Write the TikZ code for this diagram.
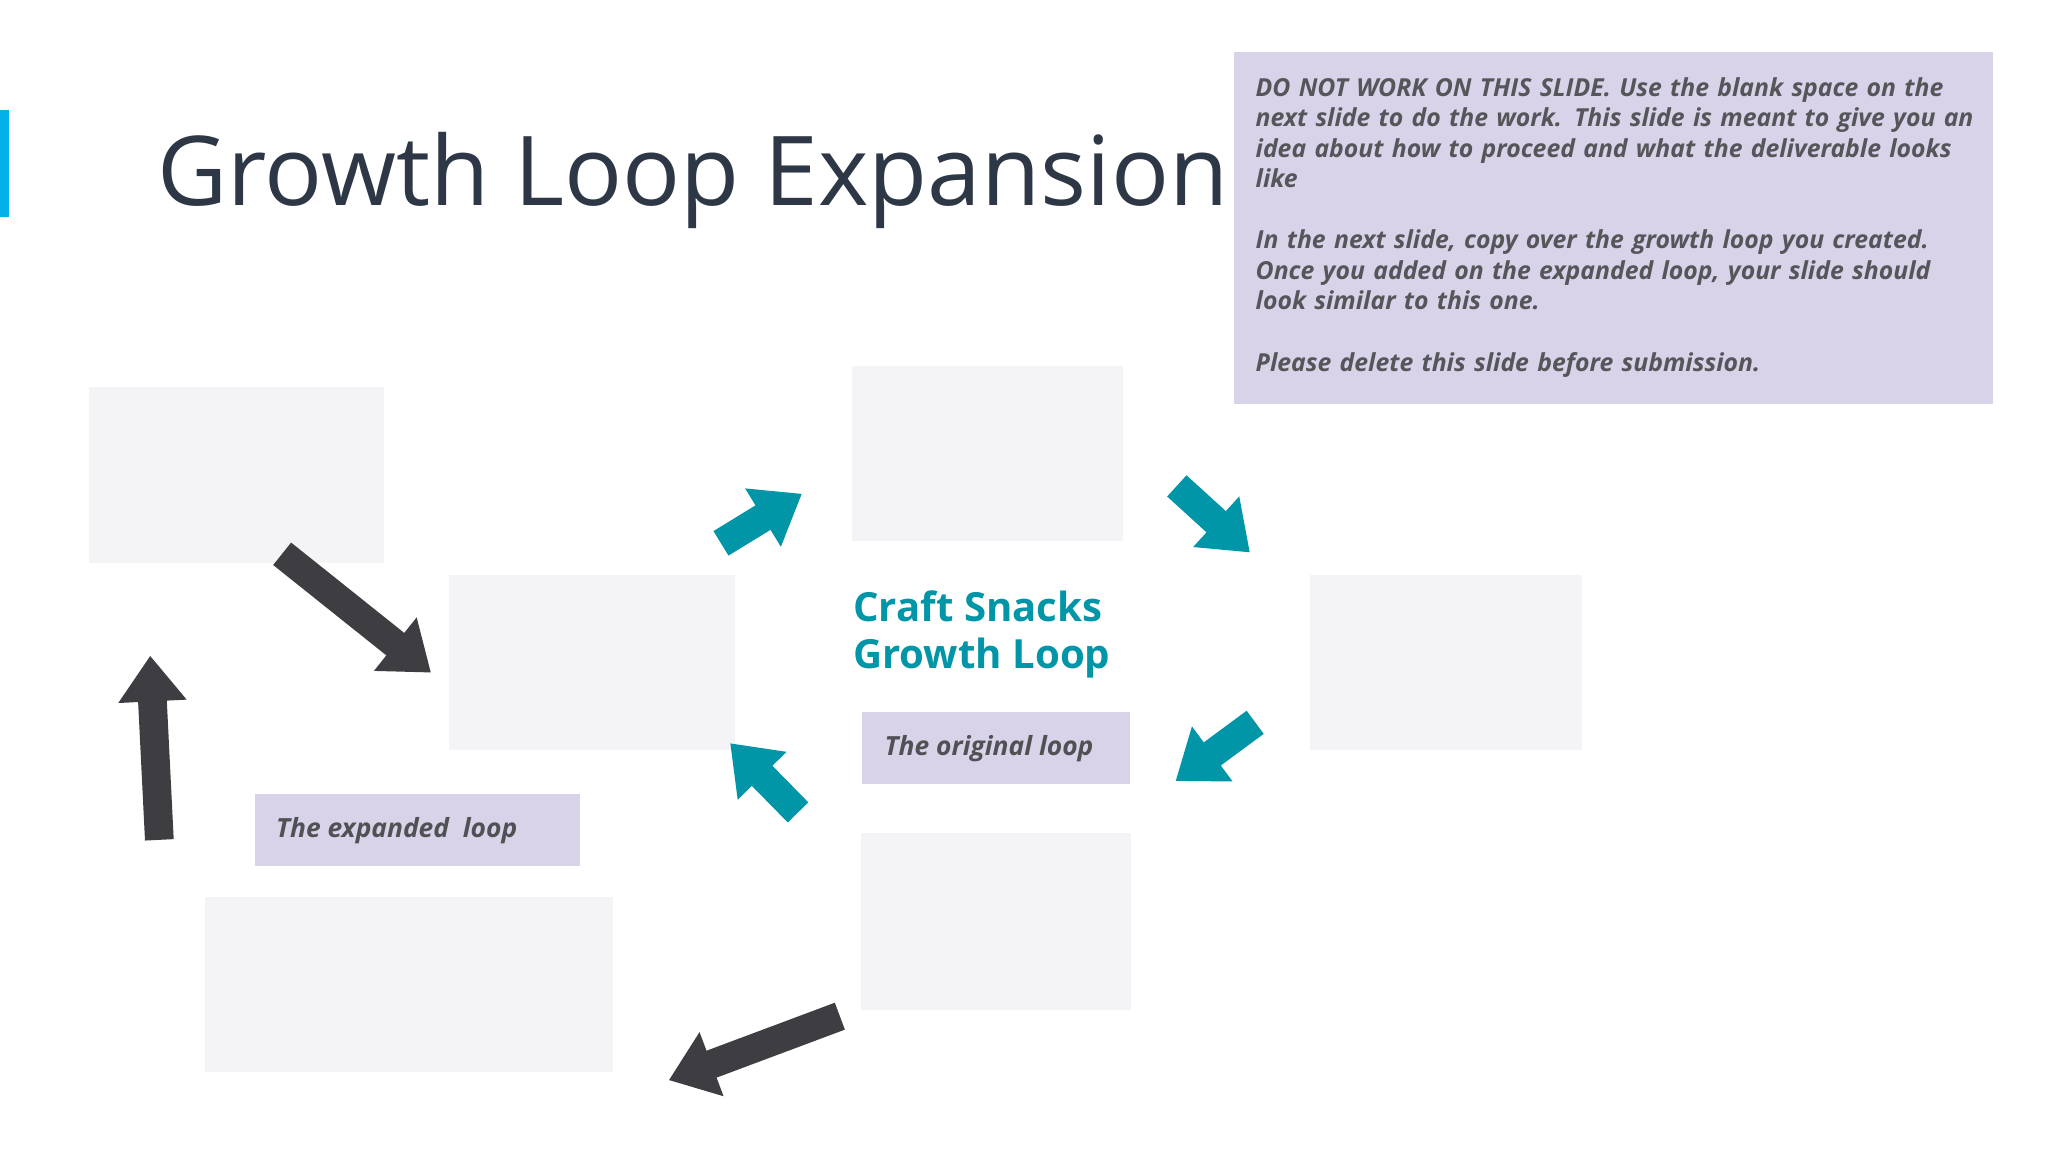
\documentclass[tikz,border=0pt]{standalone}
\usepackage{fontspec}
\setmainfont{Open Sans}
\usetikzlibrary{arrows.meta}
\definecolor{teal}{RGB}{0,150,167}
\definecolor{darkarr}{RGB}{62,62,66}
\definecolor{boxf}{RGB}{244,243,245}
\definecolor{purp}{RGB}{217,211,233}
\definecolor{notet}{RGB}{85,85,90}
\definecolor{titlec}{RGB}{45,55,70}
\definecolor{barc}{RGB}{0,176,230}
\hyphenpenalty=10000
\exhyphenpenalty=10000
\begin{document}
\begin{tikzpicture}[x=0.02cm,y=-0.02cm,
  box/.style={fill=boxf,draw=none},
  lab/.style={fill=purp,draw=none},
  tarr/.style={line width=0.44cm,teal,-{Triangle[width=1.0cm,length=0.7cm]}},
  darr/.style={line width=0.44cm,darkarr,-{Triangle[width=1.0cm,length=0.7cm]}}]
\useasboundingbox (0,0) rectangle (1568,882);
\fill[white] (0,0) rectangle (1568,882);
\fill[barc] (0,84) rectangle (7,166);
\node[anchor=base west,text=titlec,font=\fontsize{42}{46}\selectfont,inner sep=0] (title) at (120,157) {Growth Loop Expansion};
\fill[purp] (945,40) rectangle (1526,309);
\node[anchor=north west,text width=11.1cm,align=left,text=notet,font=\fontsize{10.8}{13.3}\selectfont\bfseries\itshape,inner sep=0] (note) at (961,59) {DO NOT WORK ON THIS SLIDE. Use the blank space on the next slide to do the work. This slide is meant to give you an idea about how to proceed and what the deliverable looks like\\[13.3pt]In the next slide, copy over the growth loop you created. Once you added on the expanded loop, your slide should look similar to this one.\\[13.3pt]Please delete this slide before submission.};
\fill[box] (68,296) rectangle (294,431); \coordinate (A) at (181,363);
\fill[box] (344,440) rectangle (563,574); \coordinate (B) at (453,507);
\fill[box] (652,280) rectangle (860,414); \coordinate (C) at (756,347);
\fill[box] (1003,440) rectangle (1211,574); \coordinate (D) at (1107,507);
\fill[box] (659,638) rectangle (866,773); \coordinate (E) at (762,705);
\fill[box] (157,687) rectangle (469,821); \coordinate (F) at (313,754);
\fill[lab] (660,545) rectangle (865,600);
\node[anchor=west,text=darkarr!90,font=\fontsize{11.5}{13}\selectfont\bfseries\itshape,inner sep=0] (orig) at (677,573) {The original loop};
\fill[lab] (195,608) rectangle (444,663);
\node[anchor=west,text=darkarr!90,font=\fontsize{11.5}{13}\selectfont\bfseries\itshape,inner sep=0] (exp) at (211,636) {The expanded~ loop};
\node[anchor=north west,align=left,text=teal,font=\fontsize{17.5}{20.5}\selectfont\bfseries,inner sep=0] (craft) at (653,452) {Craft Snacks\\Growth Loop};
\coordinate (t1s) at (552,416); \coordinate (t1e) at (614,378);
\coordinate (t2s) at (901,372); \coordinate (t2e) at (957,423);
\coordinate (t3s) at (961,553); \coordinate (t3e) at (900,598);
\coordinate (t4s) at (611,622); \coordinate (t4e) at (559,569);
\coordinate (d1s) at (216,424); \coordinate (d1e) at (330,515);
\coordinate (d2s) at (122,643); \coordinate (d2e) at (115,502);
\coordinate (d3s) at (643,778); \coordinate (d3e) at (512,827);
\draw[tarr] (t1s) -- (t1e);
\draw[tarr] (t2s) -- (t2e);
\draw[tarr] (t3s) -- (t3e);
\draw[tarr] (t4s) -- (t4e);
\draw[darr] (d1s) -- (d1e);
\draw[darr] (d2s) -- (d2e);
\draw[darr] (d3s) -- (d3e);
\end{tikzpicture}
\end{document}
